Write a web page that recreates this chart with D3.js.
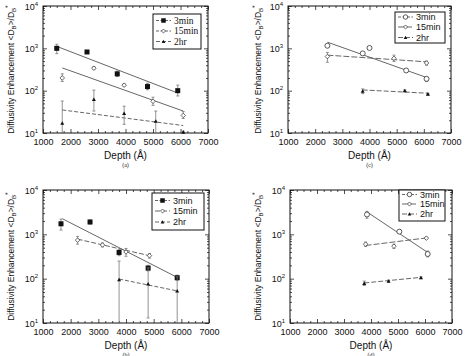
<!DOCTYPE html>
<html><head><meta charset="utf-8">
<script src="https://cdn.jsdelivr.net/npm/d3@7"></script>
<style>body{margin:0;background:#fff}svg{display:block}</style>
</head><body>
<svg id="chart" width="474" height="356"></svg>
<script>
// ---------- shared labels / ticks ----------
const seriesNames = ["3min", "15min", "2hr"];
const xTickValues = [1000, 2000, 3000, 4000, 5000, 6000, 7000];
const yTickValues = [10, 100, 1000, 10000];
const yTickExps = ["1", "2", "3", "4"];
const panelLetters = ["(a)", "(c)", "(b)", "(d)"];
const xTitle = "Depth (Å)";

// ---------- panel (a) ----------
const aDepth3 = [1500, 2600, 3700, 4800, 5900];
const aVal3   = [1000, 820, 250, 125, 100];
const aLo3    = [750, 760, 215, 105, 75];
const aHi3    = [1250, 890, 290, 150, 135];
const aFitX3  = [1550, 5900];
const aFitY3  = [1080, 88];
const aDepth15 = [1700, 2850, 3950, 5000, 6100];
const aVal15   = [200, 340, 135, 56, 26];
const aLo15    = [165, 315, 127, 45, 22];
const aHi15    = [250, 370, 145, 70, 32];
const aFitX15  = [1700, 6100];
const aFitY15  = [345, 33];
const aDepth2 = [1700, 2850, 3950, 5100, 6100];
const aVal2   = [17, 62, 29, 19, 10.5];
const aLo2    = [10, 33, 16, 10, 10];
const aHi2    = [57, 103, 43, 33, 11];
const aFitX2  = [1700, 6100];
const aFitY2  = [35, 15];

// ---------- panel (c) ----------
const cDepth3 = [2450, 3750, 4000, 5350, 6100];
const cVal3   = [1150, 760, 1020, 300, 190];
const cLo3    = [1060, 710, 950, 280, 165];
const cHi3    = [1240, 810, 1090, 320, 215];
const cFitX3  = [2450, 6100];
const cFitY3  = [1400, 205];
const cDepth15 = [2450, 4900, 6100];
const cVal15   = [640, 580, 450];
const cLo15    = [470, 490, 400];
const cHi15    = [800, 690, 500];
const cFitX15  = [2450, 6100];
const cFitY15  = [690, 480];
const cDepth2 = [3750, 5300, 6150];
const cVal2   = [97, 100, 83];
const cLo2    = [85, 95, 79];
const cHi2    = [110, 105, 87];
const cFitX2  = [3750, 6150];
const cFitY2  = [104, 87];

// ---------- panel (b) ----------
const bDepth3 = [1650, 2700, 3750, 4800, 5850];
const bVal3   = [1730, 1900, 390, 173, 105];
const bLo3    = [1250, 1700, 330, 150, 92];
const bHi3    = [2200, 2100, 450, 200, 120];
const bFitX3  = [1700, 5850];
const bFitY3  = [2250, 107];
const bDepth15 = [2250, 3150, 4000, 4850];
const bVal15   = [740, 575, 400, 330];
const bLo15    = [600, 520, 320, 290];
const bHi15    = [900, 640, 480, 370];
const bFitX15  = [2250, 4850];
const bFitY15  = [780, 330];
const bDepth2 = [3750, 4800, 5850];
const bVal2   = [95, 76, 53];
const bLo2    = [10, 13, 10];
const bHi2    = [250, 175, 110];
const bFitX2  = [3750, 5850];
const bFitY2  = [98, 53];

// ---------- panel (d) ----------
const dDepth3 = [3850, 5050, 6100];
const dVal3   = [2800, 1150, 360];
const dLo3    = [2300, 1050, 310];
const dHi3    = [3300, 1250, 420];
const dFitX3  = [3850, 6100];
const dFitY3  = [3200, 390];
const dDepth15 = [3800, 4850, 6050];
const dVal15   = [600, 540, 820];
const dLo15    = [530, 480, 780];
const dHi15    = [670, 600, 860];
const dFitX15  = [3800, 6050];
const dFitY15  = [560, 830];
const dDepth2 = [3750, 4650, 5850];
const dVal2   = [78, 88, 105];
const dLo2    = [70, 84, 100];
const dHi2    = [88, 93, 110];
const dFitX2  = [3750, 5850];
const dFitY2  = [80, 107];

// ---------- build series tables ----------
function series(depth, val, lo, hi, fx, fy) {
  return {pts: depth.map((d, i) => ({x: d, y: val[i], lo: lo[i], hi: hi[i]})),
          fit: fx.map((d, i) => ({x: d, y: fy[i]}))};
}
const panels = [
  {frame: {l: 43, r: 208, t: 6, b: 133}, ylabX: 14, serifLegend: true, markers: ["square", "diamond", "triangle"],
   dashes: [null, null, "4,2"], legend: {x: 153, y: 14, w: 48, h: 35, rows: [20.5, 31, 41.5]},
   s: [series(aDepth3, aVal3, aLo3, aHi3, aFitX3, aFitY3), series(aDepth15, aVal15, aLo15, aHi15, aFitX15, aFitY15), series(aDepth2, aVal2, aLo2, aHi2, aFitX2, aFitY2)]},
  {frame: {l: 288, r: 451, t: 6, b: 133}, ylabX: 261, serifLegend: false, markers: ["circle", "diamond", "triangle"],
   dashes: [null, "6,2", "5,2"], legend: {x: 395, y: 12, w: 50, h: 31, rows: [17, 27, 37.5]},
   s: [series(cDepth3, cVal3, cLo3, cHi3, cFitX3, cFitY3), series(cDepth15, cVal15, cLo15, cHi15, cFitX15, cFitY15), series(cDepth2, cVal2, cLo2, cHi2, cFitX2, cFitY2)]},
  {frame: {l: 43, r: 209, t: 190, b: 323}, ylabX: 14, serifLegend: false, markers: ["square", "diamond", "triangle"],
   dashes: [null, "5,2", "4,2"], legend: {x: 152, y: 193, w: 52, h: 37, rows: [200.5, 211, 222]},
   s: [series(bDepth3, bVal3, bLo3, bHi3, bFitX3, bFitY3), series(bDepth15, bVal15, bLo15, bHi15, bFitX15, bFitY15), series(bDepth2, bVal2, bLo2, bHi2, bFitX2, bFitY2)]},
  {frame: {l: 290, r: 452, t: 190, b: 323}, ylabX: 261, serifLegend: false, markers: ["circle", "diamond", "triangle"],
   dashes: [null, "6,2", "5,2"], legend: {x: 399, y: 190, w: 46, h: 31, rows: [194.5, 204, 214]},
   s: [series(dDepth3, dVal3, dLo3, dHi3, dFitX3, dFitY3), series(dDepth15, dVal15, dLo15, dHi15, dFitX15, dFitY15), series(dDepth2, dVal2, dLo2, dHi2, dFitX2, dFitY2)]}
];

const svg = d3.select("#chart");
svg.append("rect").attr("width", 474).attr("height", 356).attr("fill", "#fff");
const sans = "'Liberation Sans', Arial, sans-serif";
const serif = "'Liberation Serif', 'Times New Roman', serif";

const minorY = [];
[10, 100, 1000].forEach(d => { for (let k = 2; k <= 9; k++) minorY.push(d * k); });
const minorX = d3.range(1000, 7001, 250).filter(v => v % 1000 !== 0);

function marker(g, type, cx, cy, size) {
  const s = size;
  if (type === "square") {
    g.append("rect").attr("x", cx - s / 2).attr("y", cy - s / 2).attr("width", s).attr("height", s).attr("fill", "#111");
  } else if (type === "circle") {
    g.append("circle").attr("cx", cx).attr("cy", cy).attr("r", s / 2).attr("fill", "#fff").attr("stroke", "#333").attr("stroke-width", 0.8);
  } else if (type === "diamond") {
    const h = s / 2;
    g.append("path").attr("d", `M${cx},${cy - h}L${cx + h},${cy}L${cx},${cy + h}L${cx - h},${cy}Z`).attr("fill", "#fff").attr("stroke", "#444").attr("stroke-width", 0.8);
  } else {
    const h = s / 2;
    g.append("path").attr("d", `M${cx},${cy - h}L${cx + h},${cy + h * 0.8}L${cx - h},${cy + h * 0.8}Z`).attr("fill", "#111");
  }
}
const markerSizes = {square: 5, circle: 5, diamond: 4.5, triangle: 4};

panels.forEach((p, pi) => {
  const f = p.frame;
  const x = d3.scaleLinear().domain([1000, 7000]).range([f.l, f.r]);
  const y = d3.scaleLog().domain([10, 10000]).range([f.b, f.t]);
  const g = svg.append("g");

  // axes (inward ticks)
  const ax = g.append("g").attr("transform", `translate(0,${f.b})`)
    .call(d3.axisBottom(x).tickValues(xTickValues).tickSizeInner(-4).tickSizeOuter(0).tickPadding(5.5).tickFormat(d3.format("d")));
  ax.selectAll("text").attr("font-family", sans).attr("font-size", 9).attr("fill", "#111");
  g.append("g").attr("transform", `translate(0,${f.b})`)
    .call(d3.axisBottom(x).tickValues(minorX).tickSizeInner(-2).tickSizeOuter(0).tickFormat(""));
  g.append("g").attr("transform", `translate(0,${f.t})`)
    .call(d3.axisTop(x).tickValues(xTickValues).tickSizeInner(-4).tickSizeOuter(0).tickFormat(""));
  g.append("g").attr("transform", `translate(0,${f.t})`)
    .call(d3.axisTop(x).tickValues(minorX).tickSizeInner(-2).tickSizeOuter(0).tickFormat(""));
  g.append("g").attr("transform", `translate(${f.l},0)`)
    .call(d3.axisLeft(y).tickValues(yTickValues).tickSizeInner(-4).tickSizeOuter(0).tickFormat(""));
  g.append("g").attr("transform", `translate(${f.l},0)`)
    .call(d3.axisLeft(y).tickValues(minorY).tickSizeInner(-2).tickSizeOuter(0).tickFormat(""));
  g.append("g").attr("transform", `translate(${f.r},0)`)
    .call(d3.axisRight(y).tickValues(yTickValues).tickSizeInner(-4).tickSizeOuter(0).tickFormat(""));
  g.append("g").attr("transform", `translate(${f.r},0)`)
    .call(d3.axisRight(y).tickValues(minorY).tickSizeInner(-2).tickSizeOuter(0).tickFormat(""));
  g.selectAll(".domain").remove();
  g.selectAll(".tick line").attr("stroke", "#222").attr("stroke-width", 0.8);

  g.append("rect").attr("x", f.l).attr("y", f.t).attr("width", f.r - f.l).attr("height", f.b - f.t)
    .attr("fill", "none").attr("stroke", "#111").attr("stroke-width", 1);

  // y tick labels 10^n
  yTickValues.forEach((v, i) => {
    const t = g.append("text").attr("x", f.l - 5).attr("y", y(v) + 3.5).attr("text-anchor", "end")
      .attr("font-family", sans).attr("font-size", 9).attr("fill", "#111");
    t.append("tspan").text("10");
    t.append("tspan").attr("dy", -4).attr("font-size", 6).text(yTickExps[i]);
  });

  // titles
  g.append("text").attr("x", (f.l + f.r) / 2).attr("y", f.b + 26).attr("text-anchor", "middle")
    .attr("font-family", sans).attr("font-size", 10).attr("fill", "#111").text(xTitle);
  g.append("text").attr("x", (f.l + f.r) / 2).attr("y", f.b + 33.5).attr("text-anchor", "middle")
    .attr("font-family", serif).attr("font-size", 6).attr("fill", "#222").text(panelLetters[pi]);

  const yl = g.append("text").attr("transform", `translate(${p.ylabX},${(f.t + f.b) / 2}) rotate(-90)`)
    .attr("text-anchor", "middle").attr("font-family", sans).attr("font-size", 8.5).attr("fill", "#111");
  yl.append("tspan").text("Diffusivity Enhancement <D");
  yl.append("tspan").attr("dy", 2).attr("font-size", 6).text("B");
  yl.append("tspan").attr("dy", -2).text(">/D");
  yl.append("tspan").attr("dy", 2).attr("font-size", 6).text("B");
  yl.append("tspan").attr("dy", -6).attr("font-size", 7).text("*");

  const line = d3.line().x(d => x(d.x)).y(d => y(d.y));
  p.s.forEach((s, si) => {
    // fit line
    g.append("path").datum(s.fit).attr("d", line).attr("fill", "none").attr("stroke", "#555")
      .attr("stroke-width", 0.9).attr("stroke-dasharray", p.dashes[si]);
    // error bars
    s.pts.forEach(d => {
      const cx = x(d.x);
      g.append("line").attr("x1", cx).attr("x2", cx).attr("y1", y(d.lo)).attr("y2", y(d.hi))
        .attr("stroke", "#777").attr("stroke-width", 0.8);
      [d.lo, d.hi].forEach(v => {
        g.append("line").attr("x1", cx - 1.5).attr("x2", cx + 1.5).attr("y1", y(v)).attr("y2", y(v))
          .attr("stroke", "#777").attr("stroke-width", 0.8);
      });
    });
    s.pts.forEach(d => marker(g, p.markers[si], x(d.x), y(d.y), markerSizes[p.markers[si]]));
  });

  // legend
  const L = p.legend;
  g.append("rect").attr("x", L.x).attr("y", L.y).attr("width", L.w).attr("height", L.h)
    .attr("fill", "#fff").attr("stroke", "#111").attr("stroke-width", 1);
  seriesNames.forEach((name, si) => {
    const ry = L.rows[si];
    g.append("line").attr("x1", L.x + 3).attr("x2", L.x + 18).attr("y1", ry).attr("y2", ry)
      .attr("stroke", "#555").attr("stroke-width", 0.9).attr("stroke-dasharray", p.dashes[si] || "3,1.5");
    marker(g, p.markers[si], L.x + 10.5, ry, markerSizes[p.markers[si]] * 0.9);
    g.append("text").attr("x", L.x + 21).attr("y", ry + 3.2)
      .attr("font-family", p.serifLegend ? serif : sans).attr("font-size", p.serifLegend ? 9.5 : 9)
      .attr("fill", "#111").text(name);
  });
});
</script>
</body></html>
